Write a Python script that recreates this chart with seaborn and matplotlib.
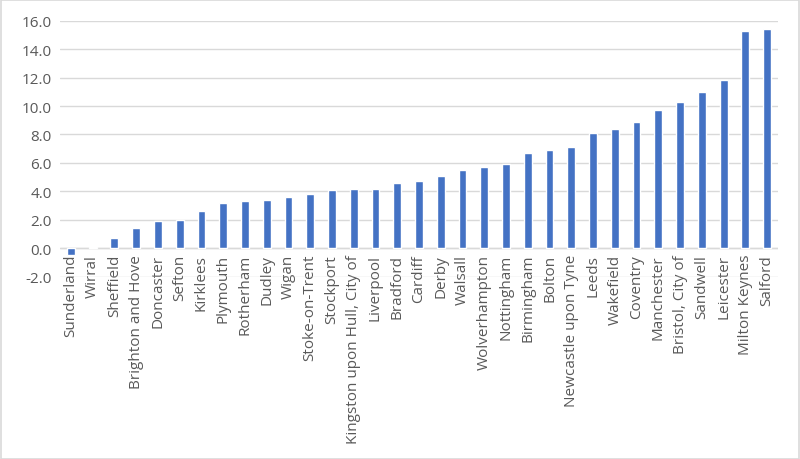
import matplotlib
matplotlib.use('Agg')
import matplotlib.pyplot as plt
import seaborn as sns
import pandas as pd

areas = ['Sunderland', 'Wirral', 'Sheffield', 'Brighton and Hove', 'Doncaster', 'Sefton',
         'Kirklees', 'Plymouth', 'Rotherham', 'Dudley', 'Wigan', 'Stoke-on-Trent',
         'Stockport', 'Kingston upon Hull, City of', 'Liverpool', 'Bradford', 'Cardiff',
         'Derby', 'Walsall', 'Wolverhampton', 'Nottingham', 'Birmingham', 'Bolton',
         'Newcastle upon Tyne', 'Leeds', 'Wakefield', 'Coventry', 'Manchester',
         'Bristol, City of', 'Sandwell', 'Leicester', 'Milton Keynes', 'Salford']
values = [-0.5, 0.1, 0.7, 1.4, 1.9, 2.0, 2.6, 3.2, 3.3, 3.4, 3.6, 3.8, 4.1, 4.2, 4.2,
          4.6, 4.7, 5.1, 5.5, 5.7, 5.9, 6.7, 6.9, 7.1, 8.1, 8.4, 8.9, 9.7, 10.3, 11.0,
          11.8, 15.3, 15.4]
yticks = [-2, 0, 2, 4, 6, 8, 10, 12, 14, 16]

df = pd.DataFrame({'area': areas, 'value': values})

sns.set_style('white')
plt.rcParams['font.family'] = ['Open Sans', 'DejaVu Sans']

fig = plt.figure(figsize=(8, 4.6), dpi=100)
ax = fig.add_axes([0.075, 0.396, 0.8975, 0.557])

sns.barplot(data=df, x='area', y='value', color='#4472C4', width=0.36,
            saturation=1, ax=ax, zorder=3)

ax.set_ylim(-2, 16)
ax.set_yticks(yticks)
ax.set_yticklabels([f'{v:.1f}' for v in yticks])
ax.set_xlim(-0.5, len(areas) - 0.5)
ax.yaxis.grid(True, color='#D9D9D9', lw=1, zorder=0)
ax.axhline(0, color='#D9D9D9', lw=1, zorder=1)
for sp in ax.spines.values():
    sp.set_visible(False)
ax.set_xlabel('')
ax.set_ylabel('')
ax.tick_params(axis='both', length=0, colors='#595959', labelsize=11)
ax.tick_params(axis='y', pad=6)
ax.tick_params(axis='x', pad=4)
ax.set_xticks(range(len(areas)))
ax.set_xticklabels(areas, rotation=90)
# category labels hang from the zero line, like Excel
for lbl in ax.get_xticklabels():
    lbl.set_y(2 / 18)

# figure border
fig.patches.append(plt.Rectangle((0.001, 0.001), 0.998, 0.997, transform=fig.transFigure,
                                 fill=False, edgecolor='#D9D9D9', lw=1.2))

fig.savefig('out.png', dpi=100, facecolor='white')
